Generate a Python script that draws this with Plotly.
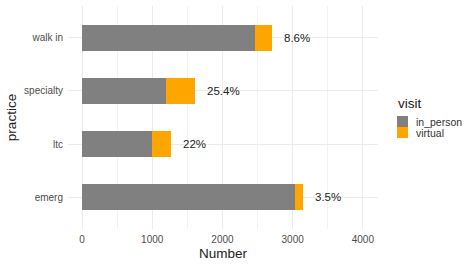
import plotly.graph_objects as go

practices = ["emerg", "ltc", "specialty", "walk in"]
in_person = [3033, 991, 1201, 2468]
virtual = [110, 279, 409, 232]
pct_labels = ["3.5%", "22%", "25.4%", "8.6%"]
x_ticks = [0, 1000, 2000, 3000, 4000]
legend_names = ["in_person", "virtual"]

GREY = "#808080"
ORANGE = "#FFA500"
FONT = "Liberation Sans, Arial, sans-serif"
TITLE_COL = "#222222"

# plot area in pixels
L, R, T, B = 68, 378, 6, 229
W, H = 474, 266


def px_x(px):
    return (px - L) / (R - L)


def px_y(py):
    return (B - py) / (B - T)


fig = go.Figure()
for name, vals, col in zip(legend_names, [in_person, virtual], [GREY, ORANGE]):
    fig.add_trace(go.Bar(y=practices, x=vals, orientation="h", name=name,
                         marker=dict(color=col, line=dict(width=0)), width=0.5,
                         showlegend=False))

for p, a, b, lab in zip(practices, in_person, virtual, pct_labels):
    fig.add_annotation(x=a + b, y=p, text=lab, showarrow=False, xanchor="left",
                       xshift=10, font=dict(size=11.5, color="#222222", family=FONT))

# legend drawn by hand (ggplot style, compact keys)
fig.add_annotation(xref="paper", yref="paper", x=px_x(396), y=px_y(103), text="visit",
                   showarrow=False, xanchor="left", yanchor="middle",
                   font=dict(size=13.5, color=TITLE_COL, family=FONT))
for i, (name, col) in enumerate(zip(legend_names, [GREY, ORANGE])):
    top = 116 + i * 11
    fig.add_shape(type="rect", xref="paper", yref="paper",
                  x0=px_x(397), x1=px_x(408), y0=px_y(top + 11), y1=px_y(top),
                  fillcolor=col, line=dict(width=0))
    fig.add_annotation(xref="paper", yref="paper", x=px_x(414), y=px_y(top + 5.5),
                       text=name, showarrow=False, xanchor="left", yanchor="middle",
                       font=dict(size=10.5, color="#333333", family=FONT))

fig.update_layout(
    barmode="stack",
    width=W, height=H,
    margin=dict(l=L, r=W - R, t=T, b=H - B, autoexpand=False),
    paper_bgcolor="white", plot_bgcolor="white",
    font=dict(family=FONT),
    showlegend=False,
    xaxis=dict(range=[-200, 4216], tickvals=x_ticks, ticktext=[str(v) for v in x_ticks],
               showgrid=True, gridcolor="#EBEBEB", gridwidth=1, zeroline=False,
               showline=False, ticks="", ticklabelstandoff=3,
               tickfont=dict(size=10, color="#4D4D4D"),
               title=dict(text="Number", font=dict(size=13.5, color=TITLE_COL), standoff=4),
               minor=dict(dtick=500, tick0=0, showgrid=True, gridcolor="#F2F2F2", gridwidth=1)),
    yaxis=dict(categoryorder="array", categoryarray=practices, range=[-0.6, 3.6],
               showgrid=True, gridcolor="#EBEBEB", gridwidth=1, zeroline=False,
               showline=False, ticks="", ticklabelstandoff=4,
               tickfont=dict(size=10, color="#4D4D4D"),
               title=dict(text="practice", font=dict(size=13.5, color=TITLE_COL), standoff=4)),
)

fig.write_html("out.html")
